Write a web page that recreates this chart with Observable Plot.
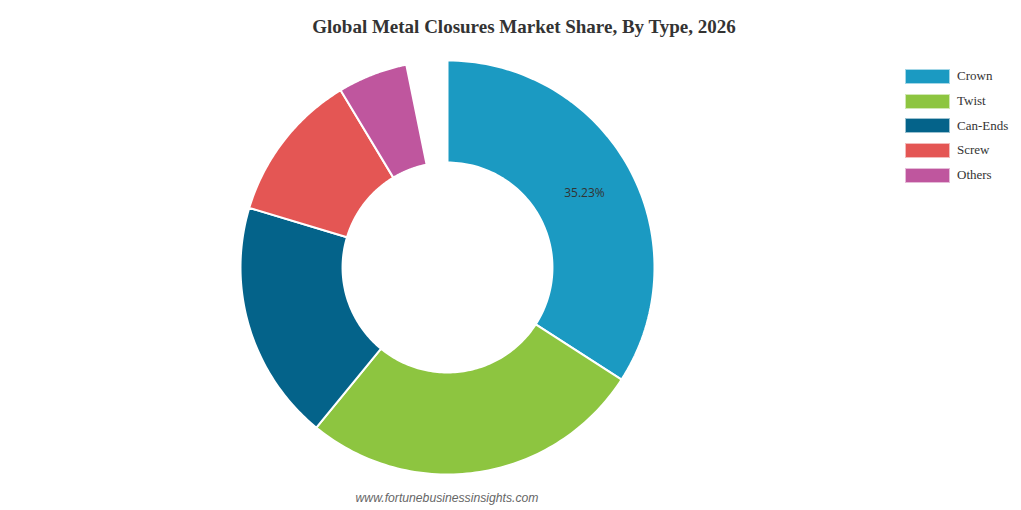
<!DOCTYPE html>
<html>
<head>
<meta charset="utf-8">
<script src="https://cdn.jsdelivr.net/npm/d3@7"></script>
<script src="https://cdn.jsdelivr.net/npm/@observablehq/plot@0.6"></script>
<style>
  html, body { margin: 0; padding: 0; background: #fff; }
  #wrap { position: relative; width: 1021px; height: 510px; overflow: hidden; }
  #chart { position: absolute; left: 0; top: 0; }
  #title { position: absolute; top: 16px; left: 524px; transform: translateX(-50%); white-space: nowrap; line-height: 22px;
    font-family: "Liberation Serif", "Times New Roman", serif; font-weight: bold; font-size: 19px; color: #333; }
  #caption { position: absolute; top: 491px; left: 447px; transform: translateX(-50%); white-space: nowrap;
    font-family: "Liberation Sans", Arial, sans-serif; font-style: italic; font-size: 12.2px; color: #666; }
  #legend { position: absolute; left: 905px; top: 64px; font-family: "Liberation Serif", "Times New Roman", serif; font-size: 13px; color: #333; }
  .item { display: flex; align-items: center; height: 24.7px; }
  .sw { width: 43px; height: 13px; margin-right: 7px; box-sizing: content-box; }
</style>
</head>
<body>
<div id="wrap">
  <div id="chart"></div>
  <div id="title">Global Metal Closures Market Share, By Type, 2026</div>
  <div id="legend"></div>
  <div id="caption">www.fortunebusinessinsights.com</div>
</div>
<script>
// Data
const types = ["Crown", "Twist", "Can-Ends", "Screw", "Others"];
const shares = [35.23, 27.7, 19.35, 12.1, 5.62];
const colors = ["#1b9ac2", "#8dc540", "#04638a", "#e45654", "#bf569e"];
const remainder = 3.3; // unfilled gap at the end of the ring
const labeled = ["Crown"];

const innerRatio = 0.507;

const pieData = types.map((t, i) => ({type: t, value: shares[i]}));
pieData.push({type: "__gap", value: remainder});
const arcs = d3.pie().sort(null).value(d => d.value)(pieData).filter(a => a.data.type !== "__gap");

// Build slice outlines in unit coordinates
const pts = [];
for (const a of arcs) {
  const n = 80;
  const ring = [];
  for (let k = 0; k <= n; k++) {
    const t = a.startAngle + (a.endAngle - a.startAngle) * k / n;
    ring.push({type: a.data.type, x: Math.sin(t), y: Math.cos(t)});
  }
  for (let k = n; k >= 0; k--) {
    const t = a.startAngle + (a.endAngle - a.startAngle) * k / n;
    ring.push({type: a.data.type, x: innerRatio * Math.sin(t), y: innerRatio * Math.cos(t)});
  }
  ring.push({...ring[0]});
  pts.push(...ring);
}

const labels = arcs.filter(a => labeled.includes(a.data.type)).map(a => {
  const m = (a.startAngle + a.endAngle) / 2;
  const r = (1 + innerRatio) / 2;
  return {x: r * Math.sin(m), y: r * Math.cos(m), text: a.data.value.toFixed(2) + "%"};
});

const R = 207, cx = 447, cy = 267;
const plot = Plot.plot({
  width: 1021,
  height: 510,
  margin: 0,
  x: {domain: [-1, 1], range: [cx - R, cx + R], axis: null},
  y: {domain: [-1, 1], range: [cy + R, cy - R], axis: null},
  color: {domain: types, range: colors},
  marks: [
    Plot.line(pts, {x: "x", y: "y", z: "type", fill: "type", stroke: "#fff", strokeWidth: 2, curve: "linear"}),
    Plot.text(labels, {x: "x", y: "y", text: "text", fill: "#333", fontSize: 12, fontFamily: "'Open Sans', 'Liberation Sans', sans-serif"})
  ]
});
plot.style.background = "transparent";
document.getElementById("chart").appendChild(plot);

// Legend
const lg = document.getElementById("legend");
types.forEach((t, i) => {
  const it = document.createElement("div");
  it.className = "item";
  const sw = document.createElement("div");
  sw.className = "sw";
  sw.style.background = colors[i];
  sw.style.border = "1px solid " + d3.interpolateRgb(colors[i], "#fff")(0.6);
  const lb = document.createElement("span");
  lb.textContent = t;
  it.appendChild(sw);
  it.appendChild(lb);
  lg.appendChild(it);
});
</script>
</body>
</html>
